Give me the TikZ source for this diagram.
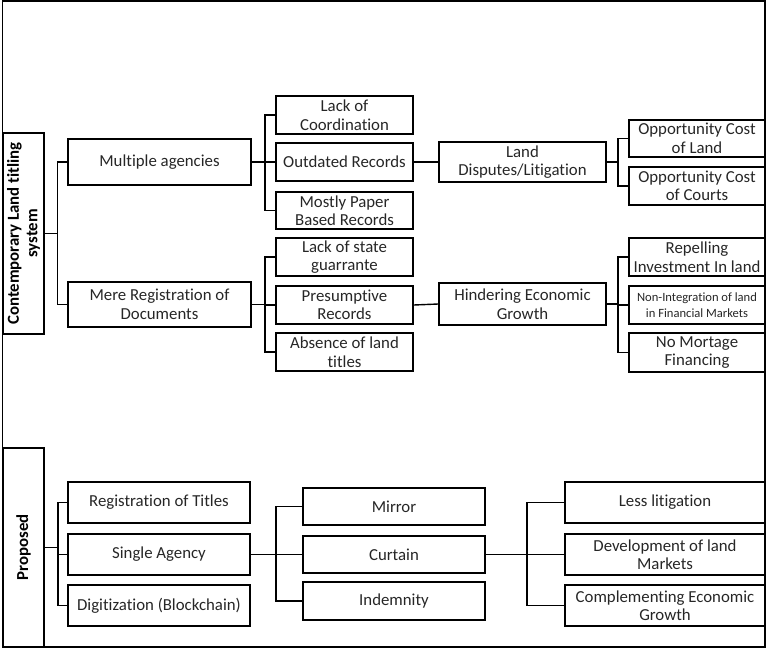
\documentclass[tikz,border=0pt]{standalone}
\usepackage{fontspec}
\setmainfont{Carlito}[Ligatures=NoCommon]
\begin{document}
\begin{tikzpicture}[x=1pt,y=-1pt,
  box/.style={draw=black, line width=1.6pt, inner sep=0pt, align=center, text=black!85,
    font=\fontsize{16.8}{18.5}\selectfont},
  smallbox/.style={box, font=\fontsize{12.6}{15.5}\selectfont},
  conn/.style={draw=black, line width=1.4pt},
  vlabel/.style={rotate=90, align=center, text=black, font=\fontsize{16.8}{18.5}\selectfont\bfseries}]
\useasboundingbox (0,0) rectangle (768,649);
\draw[line width=1.8pt] (2.5,1) rectangle (765,647);

% upper part
\node[box, minimum width=41, minimum height=201] (cls) at (23.5,233.5) {};
\node[vlabel] (clsT) at (cls.center) {Contemporary Land titling\\system};
\node[box, minimum width=183, minimum height=46] (ma) at (159.5,162) {Multiple agencies};
\node[box, minimum width=183, minimum height=45] (mr) at (159.5,304.5) {Mere Registration of\\Documents};
\node[box, minimum width=137, minimum height=38] (lc) at (344.5,115) {Lack of\\Coordination};
\node[box, minimum width=137, minimum height=38] (orc) at (344.5,162) {Outdated Records};
\node[box, minimum width=137, minimum height=37] (mp) at (344.5,210.5) {Mostly Paper\\Based Records};
\node[box, minimum width=137, minimum height=38] (ls) at (344.5,257) {Lack of state\\guarrante};
\node[box, minimum width=137, minimum height=38] (pr) at (344.5,305) {Presumptive\\Records};
\node[box, minimum width=137, minimum height=38] (ab) at (344.5,352) {Absence of land\\titles};
\node[box, minimum width=167, minimum height=40] (ld) at (522.5,162) {Land\\Disputes/Litigation};
\node[box, minimum width=167, minimum height=42] (hg) at (522.5,304) {Hindering Economic\\Growth};
\node[box, minimum width=136, minimum height=37] (ocl) at (697,138.5) {Opportunity Cost\\of Land};
\node[box, minimum width=136, minimum height=38] (occ) at (697,186) {Opportunity Cost\\of Courts};
\node[box, minimum width=136, minimum height=38] (ri) at (697,257) {Repelling\\Investment In land};
\node[smallbox, minimum width=136, minimum height=38] (ni) at (697,305) {Non-Integration of land\\in Financial Markets};
\node[box, minimum width=136, minimum height=39] (nm) at (697,352.5) {No Mortage\\Financing};

% lower part
\node[box, minimum width=41, minimum height=199] (prop) at (23.5,547.5) {};
\node[vlabel] (propT) at (prop.center) {Proposed};
\node[box, minimum width=182, minimum height=41] (rt) at (159,502.5) {Registration of Titles};
\node[box, minimum width=182, minimum height=41] (sa) at (159,554.5) {Single Agency};
\node[box, minimum width=182, minimum height=41] (dg) at (159,605.5) {Digitization (Blockchain)};
\node[box, minimum width=182, minimum height=37] (mi) at (394,506.5) {Mirror};
\node[box, minimum width=182, minimum height=37] (cu) at (394,554.5) {Curtain};
\node[box, minimum width=182, minimum height=38] (ind) at (394,601) {Indemnity};
\node[box, minimum width=200, minimum height=41] (ll) at (665,502.5) {Less litigation};
\node[box, minimum width=200, minimum height=41] (dl) at (665,554.5) {Development of land\\Markets};
\node[box, minimum width=200, minimum height=41] (ce) at (665,605.5) {Complementing Economic\\Growth};

% connectors
\draw[conn] (cls.east) -- ++(12.5,0) coordinate (j1);
\draw[conn] (ma.west) -| (j1) |- (mr.west);

\draw[conn] (ma.east) -- ++(13,0) coordinate (j2);
\draw[conn] (lc.west) -| (j2) |- (mp.west);
\draw[conn] (j2) -- (orc.west);

\draw[conn] (mr.east) -- ++(13,0) coordinate (j3);
\draw[conn] (ls.west) -| (j3) |- (ab.west);
\draw[conn] (j3) |- (pr.west);

\draw[conn] (orc.east) -- (ld.west);
\draw[conn] (pr.east) -- (hg.west);

\draw[conn] (ld.east) -- ++(11,0) coordinate (j4);
\draw[conn] (ocl.west) -| (j4) |- (occ.west);

\draw[conn] (hg.east) -- ++(11,0) coordinate (j5);
\draw[conn] (ri.west) -| (j5) |- (nm.west);
\draw[conn] (j5) |- (ni.west);

\draw[conn] (prop.east) -- ++(13,0) coordinate (j6);
\draw[conn] (rt.west) -| (j6) |- (dg.west);
\draw[conn] (j6) |- (sa.west);

\draw[conn] (sa.east) -- ++(25,0) coordinate (j7);
\draw[conn] (mi.west) -| (j7) |- (ind.west);
\draw[conn] (j7) -- (cu.west);

\draw[conn] (cu.east) -- ++(41,0) coordinate (j8);
\draw[conn] (ll.west) -| (j8) |- (ce.west);
\draw[conn] (j8) -- (dl.west);
\end{tikzpicture}
\end{document}
